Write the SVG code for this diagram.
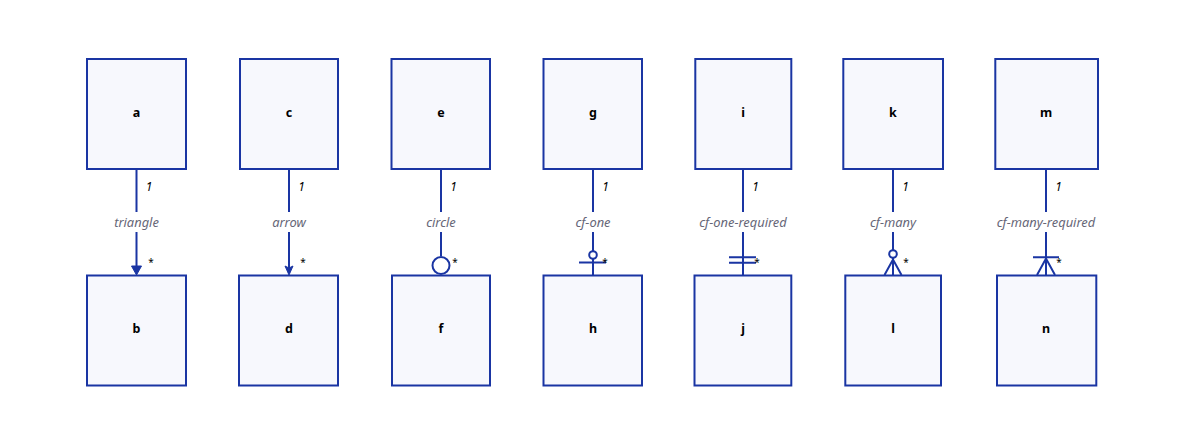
<svg xmlns="http://www.w3.org/2000/svg" width="1200" height="445" viewBox="0 0 1200 445">
<style>
.box{fill:#f7f8fd;stroke:#1a35a3;stroke-width:2}
.nl{font-family:"Noto Sans",sans-serif;font-size:12.5px;font-weight:bold;fill:#000;text-anchor:middle}
.ln{fill:none;stroke:#1a35a3;stroke-width:2}
.mk{fill:#1a35a3;stroke:#1a35a3;stroke-width:1}
.oc{fill:#fff;stroke:#1a35a3;stroke-width:2}
.lab{font-family:"Noto Sans",sans-serif;font-size:12.9px;font-style:italic;fill:#666677;text-anchor:middle}
.one{font-family:"Noto Sans",sans-serif;font-size:12px;font-style:italic;fill:#000;text-anchor:middle}
.st{font-family:"Noto Sans",sans-serif;font-size:10px;fill:#000;text-anchor:middle}
</style>
<rect width="1200" height="445" fill="#fff"/>
<g id="connectors">
  <g id="e-ab">
    <path class="ln" d="M136.5 169V212M136.5 232V267"/>
    <path class="mk" d="M131.5 266L141.5 266L136.5 275Z"/>
    <text class="one" x="149" y="191">1</text>
    <text class="lab" x="136.5" y="226.5">triangle</text>
    <text class="st" x="151" y="266">*</text>
  </g>
  <g id="e-cd">
    <path class="ln" d="M289 169V212M289 232V270"/>
    <path class="mk" d="M285 266L289 268L293 266L289 275Z"/>
    <text class="one" x="301.5" y="191">1</text>
    <text class="lab" x="289" y="226.5">arrow</text>
    <text class="st" x="303" y="266">*</text>
  </g>
  <g id="e-ef">
    <path class="ln" d="M441 169V212M441 232V256"/>
    <circle class="oc" cx="441" cy="265.5" r="8.5"/>
    <text class="one" x="453.5" y="191">1</text>
    <text class="lab" x="441" y="226.5">circle</text>
    <text class="st" x="455" y="266">*</text>
  </g>
  <g id="e-gh">
    <path class="ln" d="M593 169V212M593 232V251M593 259V275M579 262.5H606"/>
    <circle class="oc" cx="593" cy="255" r="3.8"/>
    <text class="one" x="605.5" y="191">1</text>
    <text class="lab" x="593" y="226.5">cf-one</text>
    <text class="st" x="605" y="266">*</text>
  </g>
  <g id="e-ij">
    <path class="ln" d="M743 169V212M743 232V275M729 257.3H756M729 262.7H756"/>
    <text class="one" x="755.5" y="191">1</text>
    <text class="lab" x="743" y="226.5">cf-one-required</text>
    <text class="st" x="757" y="266">*</text>
  </g>
  <g id="e-kl">
    <path class="ln" d="M893 169V212M893 232V250.2M893 258V275M884.5 275L893 259.5L901.5 275"/>
    <circle class="oc" cx="893" cy="254" r="3.8"/>
    <text class="one" x="905.5" y="191">1</text>
    <text class="lab" x="893" y="226.5">cf-many</text>
    <text class="st" x="906" y="266">*</text>
  </g>
  <g id="e-mn">
    <path class="ln" d="M1046 169V212M1046 232V275M1033 257.3H1059M1037 275L1046 258.5L1055 275"/>
    <text class="one" x="1058.5" y="191">1</text>
    <text class="lab" x="1046" y="226.5">cf-many-required</text>
    <text class="st" x="1059" y="266">*</text>
  </g>
</g>
<g id="node-a"><rect class="box" x="87" y="59" width="99" height="110"/><text class="nl" x="136.5" y="117">a</text></g>
<g id="node-b"><rect class="box" x="87" y="275.5" width="99" height="110"/><text class="nl" x="136.5" y="333">b</text></g>
<g id="node-c"><rect class="box" x="240" y="59" width="98" height="110"/><text class="nl" x="289" y="117">c</text></g>
<g id="node-d"><rect class="box" x="239" y="275.5" width="99" height="110"/><text class="nl" x="289" y="333">d</text></g>
<g id="node-e"><rect class="box" x="391.5" y="59" width="98.5" height="110"/><text class="nl" x="441" y="117">e</text></g>
<g id="node-f"><rect class="box" x="392" y="275.5" width="98" height="110"/><text class="nl" x="441" y="333">f</text></g>
<g id="node-g"><rect class="box" x="543.5" y="59" width="98.5" height="110"/><text class="nl" x="593" y="117">g</text></g>
<g id="node-h"><rect class="box" x="543.5" y="275.5" width="98.5" height="110"/><text class="nl" x="593" y="333">h</text></g>
<g id="node-i"><rect class="box" x="695.3" y="59" width="96" height="110"/><text class="nl" x="743" y="117">i</text></g>
<g id="node-j"><rect class="box" x="694.5" y="275.5" width="96.8" height="110"/><text class="nl" x="743" y="333">j</text></g>
<g id="node-k"><rect class="box" x="843.3" y="59" width="99.7" height="110"/><text class="nl" x="893" y="117">k</text></g>
<g id="node-l"><rect class="box" x="845.3" y="275.5" width="95.7" height="110"/><text class="nl" x="893" y="333">l</text></g>
<g id="node-m"><rect class="box" x="995.3" y="59" width="102.7" height="110"/><text class="nl" x="1046" y="117">m</text></g>
<g id="node-n"><rect class="box" x="997" y="275.5" width="99.3" height="110"/><text class="nl" x="1046" y="333">n</text></g>
</svg>
